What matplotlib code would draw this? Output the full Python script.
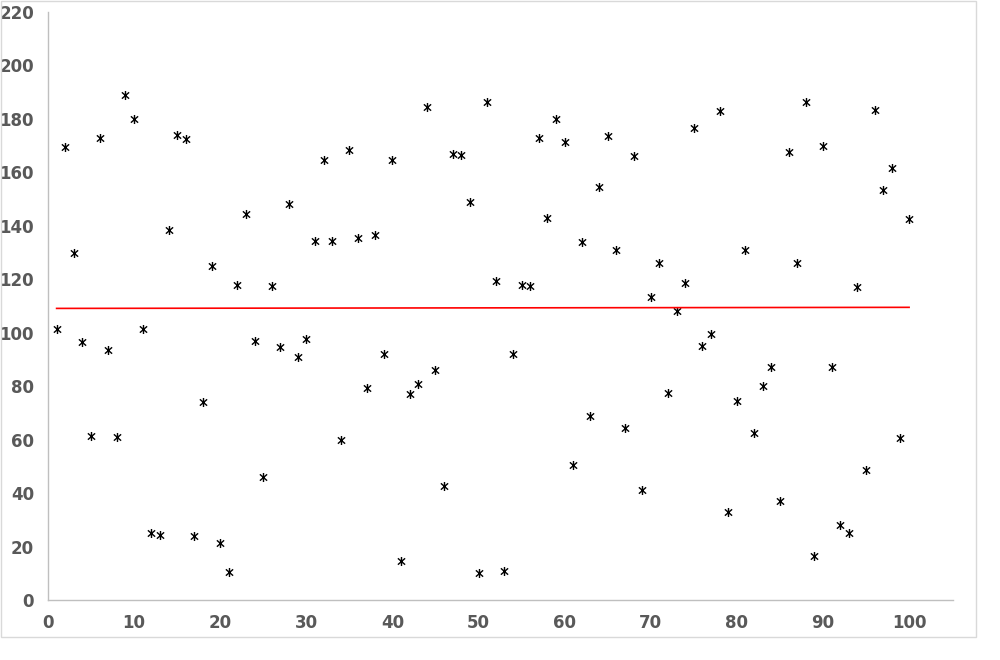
import matplotlib
matplotlib.use("Agg")
import matplotlib.pyplot as plt
from matplotlib.path import Path
from matplotlib.patches import Rectangle

x_values = list(range(1, 101))
y_values = [
    101.4, 169.5, 130, 96.5, 61.5, 173, 93.5, 61, 189, 180,
    101.5, 25, 24.5, 138.5, 174, 172.5, 24, 74, 125, 21.5,
    10.5, 118, 144.5, 97, 46, 117.5, 94.5, 148, 91, 97.5,
    134.5, 164.5, 134.5, 60, 168.5, 135.5, 79.5, 136.5, 92, 164.5,
    14.5, 77, 81, 184.5, 86, 42.5, 167, 166.5, 149, 10,
    186.5, 119.5, 11, 92, 118, 117.5, 173, 143, 180, 171.5,
    50.5, 134, 69, 154.5, 173.5, 131, 64.5, 166, 41, 113.5,
    126, 77.5, 108, 118.5, 176.5, 95, 99.5, 183, 33, 74.5,
    131, 62.5, 80, 87, 37, 167.5, 126, 186.5, 16.5, 170,
    87, 28, 25, 117, 48.5, 183.5, 153.5, 161.5, 60.5, 142.5,
]
trend_x = [1, 100]
trend_y = [109.1, 109.5]
x_ticks = [0, 10, 20, 30, 40, 50, 60, 70, 80, 90, 100]
y_ticks = [0, 20, 40, 60, 80, 100, 120, 140, 160, 180, 200, 220]

fig = plt.figure(figsize=(10, 6.6), dpi=100)
W, H = 1000, 660
# outer chart border
fig.patches.append(Rectangle((0.5 / W, 23 / H), 975 / W, 636.5 / H, transform=fig.transFigure,
                             fill=False, edgecolor="#d9d9d9", linewidth=1))

ax = fig.add_axes([48 / W, (H - 600) / H, (953 - 48) / W, (600 - 12) / H])
ax.set_xlim(0, 105.1)
ax.set_ylim(0, 220)

verts = [(0, -1), (0, 1), (-0.8, -0.7), (0.8, 0.7), (-0.8, 0.7), (0.8, -0.7)]
codes = [Path.MOVETO, Path.LINETO, Path.MOVETO, Path.LINETO, Path.MOVETO, Path.LINETO]
star = Path(verts, codes)

ax.plot(x_values, y_values, linestyle="none", marker=star, markersize=6.5,
        markeredgecolor="black", markerfacecolor="none", markeredgewidth=1.0)
ax.plot(trend_x, trend_y, color="#ff0000", linewidth=1.2)

for s in ["top", "right"]:
    ax.spines[s].set_visible(False)
for s in ["left", "bottom"]:
    ax.spines[s].set_color("#bfbfbf")
    ax.spines[s].set_linewidth(1)

ax.set_xticks(x_ticks)
ax.set_yticks(y_ticks)
ax.tick_params(length=0, labelsize=12, labelcolor="#595959", pad=10)
for lab in ax.get_xticklabels() + ax.get_yticklabels():
    lab.set_fontweight("bold")

fig.savefig("out.png", dpi=100)
